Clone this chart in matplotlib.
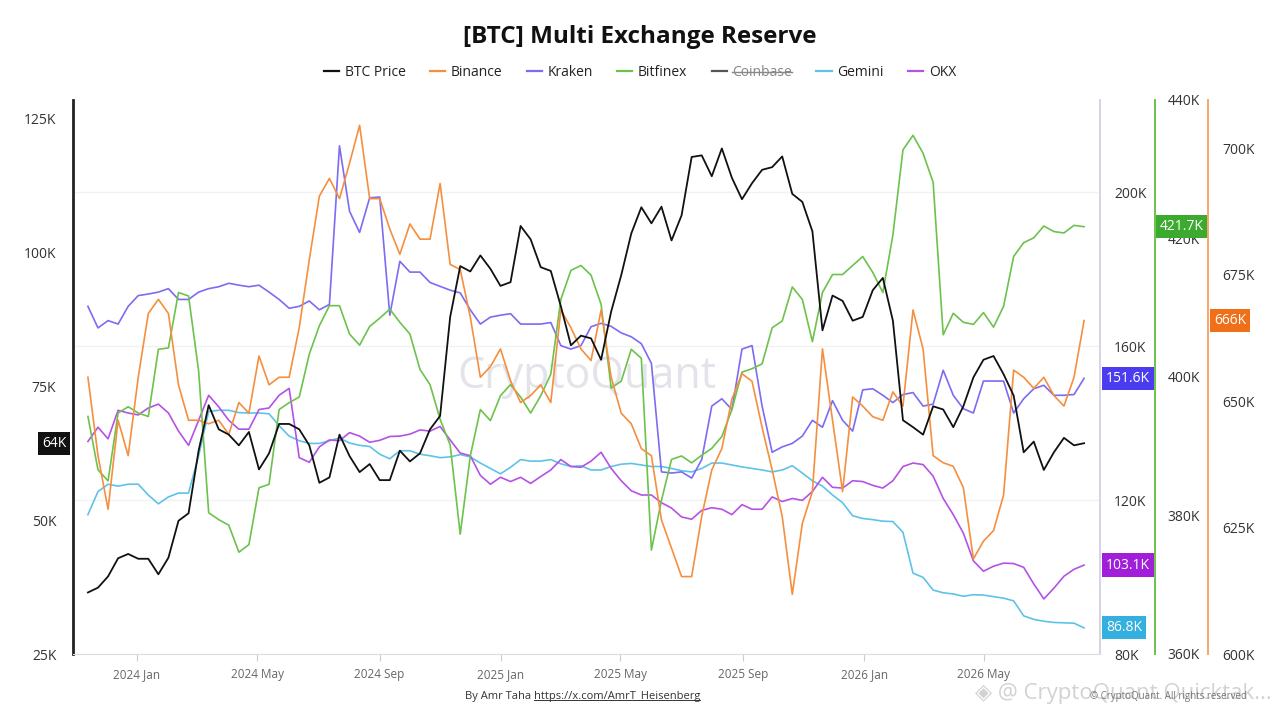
import pandas as pd
import matplotlib
matplotlib.use("Agg")
import matplotlib.pyplot as plt
import matplotlib.dates as mdates
from matplotlib.ticker import FuncFormatter
from matplotlib.lines import Line2D

plt.rcParams['font.family'] = ['Open Sans', 'DejaVu Sans']

# ~10-day samples
dates = pd.date_range("2023-11-13", "2026-08-10", periods=100)

# BTC price, K USD (left axis)
btc_price = [36.5, 37.4, 39.5, 42.9, 43.7, 42.8, 42.8, 39.9, 43.0, 49.9,
             51.3, 63.0, 71.5, 67.0, 66.0, 64.0, 66.5, 59.5, 62.5, 68.0,
             68.0, 67.0, 64.0, 57.0, 58.0, 66.0, 62.0, 59.0, 60.5, 57.5,
             57.5, 63.0, 61.0, 62.5, 67.0, 69.5, 88.0, 97.5, 96.5, 99.5,
             97.0, 93.8, 94.5, 105.0, 102.5, 97.3, 96.6, 90.0, 82.7, 84.5,
             84.0, 80.0, 89.0, 95.8, 103.6, 108.5, 105.5, 108.6, 102.3, 107.0,
             117.9, 118.2, 114.3, 119.5, 114.0, 110.0, 113.0, 115.5, 116.0, 118.0,
             111.0, 109.5, 104.0, 85.5, 92.0, 91.0, 87.3, 88.0, 93.0, 95.3,
             87.3, 68.7, 67.4, 66.0, 71.3, 70.7, 67.4, 71.3, 76.7, 80.0,
             80.7, 77.3, 73.3, 62.7, 64.7, 59.4, 62.7, 65.4, 64.0, 64.4]

# exchange reserves, K BTC
binance = [654.7, 639.2, 628.6, 646.2, 639.2, 654.7, 667.3, 670.1, 667.3, 653.2,
           646.2, 646.2, 645.5, 646.2, 643.4, 649.7, 647.6, 658.9, 653.2, 654.7,
           654.7, 664.5, 677.9, 690.5, 694.0, 690.0, 697.0, 704.5, 690.0, 690.0,
           684.0, 679.0, 685.0, 682.0, 682.0, 693.0, 677.0, 676.0, 666.6, 654.7,
           656.8, 660.3, 654.0, 649.7, 651.1, 653.2, 649.7, 668.0, 664.5, 660.3,
           658.0, 668.0, 654.7, 647.6, 645.5, 640.6, 639.2, 626.5, 620.9, 615.3,
           615.3, 627.2, 636.4, 640.6, 650.4, 655.4, 653.9, 644.8, 636.4, 627.2,
           611.8, 625.8, 632.1, 660.3, 646.2, 632.1, 650.8, 649.0, 646.9, 646.2,
           651.8, 649.0, 668.0, 660.3, 639.2, 637.8, 637.1, 632.9, 618.8, 622.3,
           624.4, 631.4, 656.1, 654.7, 652.5, 654.7, 651.1, 649.0, 654.7, 665.9]

kraken = [170.3, 164.7, 166.6, 165.7, 170.3, 173.1, 173.5, 174.0, 174.9, 172.1,
          172.1, 174.0, 174.9, 175.4, 176.3, 175.8, 175.4, 175.8, 174.0, 172.1,
          169.8, 170.3, 171.7, 169.4, 170.8, 212.0, 195.0, 189.5, 198.5, 198.7,
          168.0, 182.0, 179.2, 179.2, 176.5, 175.5, 174.5, 173.8, 169.4, 165.7,
          167.5, 168.0, 168.4, 165.7, 165.7, 165.7, 166.1, 160.1, 159.2, 160.1,
          165.0, 165.9, 165.1, 163.4, 162.4, 160.6, 155.5, 127.3, 127.0, 127.3,
          125.7, 130.5, 144.4, 146.3, 143.5, 159.2, 160.1, 144.4, 132.4, 133.8,
          134.7, 136.6, 140.7, 138.9, 145.8, 140.7, 137.9, 148.6, 148.9, 147.2,
          145.3, 147.4, 147.9, 144.4, 144.9, 153.7, 147.2, 143.7, 142.6, 150.9,
          150.9, 150.9, 142.6, 146.3, 148.9, 149.8, 147.2, 147.2, 147.4, 151.6]

bitfinex = [394.3, 386.6, 385.0, 394.8, 395.7, 394.8, 394.3, 404.0, 404.2, 412.2,
            411.7, 400.9, 380.4, 379.4, 378.6, 374.7, 375.8, 384.0, 384.5, 395.3,
            396.3, 397.1, 403.3, 407.4, 410.3, 410.3, 406.2, 404.6, 407.3, 408.5,
            409.8, 407.9, 406.2, 401.1, 398.9, 393.9, 390.2, 377.3, 388.6, 395.3,
            393.7, 397.3, 398.9, 397.1, 394.8, 397.3, 400.4, 411.2, 415.4, 416.1,
            414.7, 410.5, 398.4, 399.4, 404.0, 402.7, 375.0, 382.2, 388.1, 388.6,
            387.6, 388.7, 389.7, 391.4, 395.3, 400.7, 401.2, 401.9, 407.1, 408.1,
            413.0, 411.2, 405.1, 412.2, 414.8, 414.8, 416.1, 417.4, 415.1, 412.2,
            420.5, 432.8, 434.9, 432.3, 428.1, 406.1, 409.2, 407.9, 407.6, 409.3,
            407.2, 410.2, 417.4, 419.4, 420.1, 421.8, 421.0, 420.8, 421.9, 421.7]

gemini = [116.2, 122.2, 124.1, 123.6, 124.1, 124.1, 121.3, 119.0, 120.8, 121.8,
          121.8, 131.5, 143.0, 143.3, 143.3, 142.7, 142.6, 142.6, 142.4, 139.3,
          136.6, 135.4, 134.7, 134.7, 135.4, 136.1, 134.8, 134.2, 133.9, 131.9,
          130.7, 132.8, 132.8, 131.9, 131.5, 131.0, 131.2, 131.8, 131.2, 129.6,
          128.2, 126.8, 128.5, 130.5, 130.1, 130.1, 130.5, 129.4, 128.7, 128.9,
          127.8, 127.8, 128.7, 129.3, 129.5, 129.1, 128.7, 128.7, 128.2, 127.6,
          127.3, 128.2, 129.6, 129.6, 129.1, 128.6, 128.2, 127.8, 127.3, 127.8,
          128.9, 127.0, 125.0, 123.6, 121.3, 119.3, 115.9, 115.2, 114.9, 114.5,
          114.4, 111.6, 101.0, 99.9, 96.6, 95.9, 95.6, 95.0, 95.4, 95.3,
          94.9, 94.5, 93.8, 89.9, 89.0, 88.5, 88.2, 88.1, 88.0, 86.8]

okx = [135.2, 138.9, 135.9, 143.3, 142.6, 142.1, 143.9, 144.9, 142.6, 137.9,
       134.2, 140.7, 147.2, 144.2, 140.7, 138.4, 138.4, 143.5, 143.9, 147.2,
       149.0, 131.0, 129.8, 133.8, 135.6, 135.4, 137.5, 136.6, 135.0, 135.5,
       136.5, 136.6, 137.1, 138.2, 137.9, 139.1, 135.6, 132.2, 131.5, 126.4,
       124.1, 125.9, 124.8, 125.9, 124.3, 126.1, 127.8, 130.5, 128.7, 128.5,
       130.1, 132.4, 128.2, 125.0, 122.4, 121.3, 121.3, 119.3, 117.9, 115.6,
       115.0, 117.3, 118.0, 117.6, 116.2, 118.8, 117.6, 117.6, 120.8, 119.6,
       120.4, 119.9, 122.2, 125.9, 123.3, 123.1, 125.0, 124.8, 123.8, 123.1,
       125.0, 128.7, 129.6, 129.2, 126.2, 120.4, 116.2, 111.4, 104.2, 101.5,
       102.8, 103.6, 103.5, 102.5, 98.2, 94.3, 97.1, 100.2, 102.0, 103.1]

c_btc = '#111111'
c_binance = '#f58f3f'
c_kraken = '#7b6cf2'
c_bitfinex = '#6cc24c'
c_coinbase = '#555555'
c_gemini = '#5ec3e6'
c_okx = '#b452e6'

kfmt = FuncFormatter(lambda v, p: f"{v:g}K")

fig = plt.figure(figsize=(12.8, 7.2), dpi=100)
ax = fig.add_axes([73 / 1280, 66 / 720, 1027 / 1280, 554 / 720])

ax.set_ylim(25, 128.55)
ax.set_yticks([25, 50, 75, 100, 125])
ax.yaxis.set_major_formatter(kfmt)
ax.tick_params(axis='y', length=0, pad=12, labelsize=10, labelcolor='#333333')
ax.set_xlim(pd.Timestamp('2023-10-29'), pd.Timestamp('2026-08-26'))
ax.xaxis.set_major_locator(mdates.MonthLocator(bymonth=[1, 5, 9]))
ax.xaxis.set_major_formatter(mdates.DateFormatter('%Y %b'))
ax.tick_params(axis='x', length=5, color='#cccccc', labelcolor='#666666',
               labelsize=8.5, pad=5)
for s in ['top', 'right']:
    ax.spines[s].set_visible(False)
ax.spines['left'].set_color('#222222')
ax.spines['left'].set_linewidth(2)
ax.spines['bottom'].set_color('#dddddd')


def side_axis(outward, color, lo, hi, ticks, pad):
    a = ax.twinx()
    a.set_ylim(lo, hi)
    a.set_yticks(ticks)
    a.yaxis.set_major_formatter(kfmt)
    a.tick_params(axis='y', length=0, pad=pad, labelsize=10, labelcolor='#333333')
    for s in ['top', 'left', 'bottom']:
        a.spines[s].set_visible(False)
    a.spines['right'].set_position(('outward', outward))
    a.spines['right'].set_color(color)
    a.spines['right'].set_linewidth(1.4)
    return a


ax_k = side_axis(0, '#d4d4e6', 80, 223.9, [80, 120, 160, 200], 10)
ax_k.grid(axis='y', color='#f1f1f1', lw=1)
ax_bf = side_axis(39.6, c_bitfinex, 360, 440, [360, 380, 400, 420, 440], 9)
ax_bn = side_axis(77.8, '#f7a76c', 600, 709.5, [600, 625, 650, 675, 700], 10)

# watermark sits under every line
ax_k.text(0.5, 0.5, 'CryptoQuant', transform=ax_k.transAxes, fontsize=31,
          color='#e3e3ea', ha='center', va='center', zorder=0)

ax_bn.plot(dates, binance, color=c_binance, lw=1.2)
ax_bf.plot(dates, bitfinex, color=c_bitfinex, lw=1.2)
ax_k.plot(dates, gemini, color=c_gemini, lw=1.2)
ax_k.plot(dates, okx, color=c_okx, lw=1.2)
ax_k.plot(dates, kraken, color=c_kraken, lw=1.2)
ax.plot(dates, btc_price, color=c_btc, lw=1.3)
# keep BTC on top
ax.set_zorder(ax_bn.get_zorder() + 1)
ax.patch.set_visible(False)


def last_label(a, val, text, color, dx, ha='left'):
    a.annotate(text, xy=(0 if ha == 'right' else 1, val), xycoords=a.get_yaxis_transform(),
               xytext=(dx, 0), textcoords='offset points', ha=ha, va='center',
               color='white', fontsize=10, annotation_clip=False, zorder=10,
               bbox=dict(boxstyle='square,pad=0.3', fc=color, ec='none'))


last_label(ax, btc_price[-1], f"{btc_price[-1]:.0f}K", '#111111', -5, ha='right')
last_label(ax_k, kraken[-1], f"{kraken[-1]:.1f}K", '#4b3cf0', 4.5)
last_label(ax_k, okx[-1], f"{okx[-1]:.1f}K", '#a11fd8', 4.5)
last_label(ax_k, gemini[-1], f"{gemini[-1]:.1f}K", '#33afe0', 4.5)
last_label(ax_bf, bitfinex[-1], f"{bitfinex[-1]:.1f}K", '#3ca92f', 43)
last_label(ax_bn, binance[-1], f"{binance[-1]:.0f}K", '#f07019', 82)

fig.text(0.5, 1 - 37 / 720, '[BTC] Multi Exchange Reserve', ha='center', va='center',
         fontsize=17.5, fontweight='bold', color='#111111')

names = ['BTC Price', 'Binance', 'Kraken', 'Bitfinex', 'Coinbase', 'Gemini', 'OKX']
colors = [c_btc, c_binance, c_kraken, c_bitfinex, c_coinbase, c_gemini, c_okx]
handles = [Line2D([], [], color=c, lw=1.6) for c in colors]
leg = fig.legend(handles, names, loc='center', bbox_to_anchor=(0.5, 1 - 72 / 720), ncol=7,
                 frameon=False, fontsize=10, handlelength=1.1, handletextpad=0.4,
                 columnspacing=1.75)
for t in leg.get_texts():
    t.set_color('#222222')
leg.get_texts()[4].set_color('#888888')

fig.text(531 / 1280, 1 - 697 / 720, 'By Amr Taha', ha='right', va='center',
         fontsize=8, color='#333333')
url = fig.text(534 / 1280, 1 - 697 / 720, 'https://x.com/AmrT_Heisenberg', ha='left',
               va='center', fontsize=8, color='#333333')
fig.text(1272 / 1280, 1 - 693 / 720, '◈ @ CryptoQuant Quicktak...', ha='right', va='center',
         fontsize=16, color='#d2d2d2')
fig.text(1090 / 1280, 1 - 697 / 720, '© CryptoQuant. All rights reserved', ha='left',
         va='center', fontsize=7, color='#777777')

# strike through Coinbase, underline the link
fig.canvas.draw()
r = fig.canvas.get_renderer()
inv = fig.transFigure.inverted()
bb = leg.get_texts()[4].get_window_extent(r).transformed(inv)
ym = (bb.y0 + bb.y1) / 2
fig.add_artist(Line2D([bb.x0, bb.x1], [ym, ym], transform=fig.transFigure,
                      color='#888888', lw=1))
bb = url.get_window_extent(r).transformed(inv)
fig.add_artist(Line2D([bb.x0, bb.x1], [bb.y0 + 0.004, bb.y0 + 0.004],
                      transform=fig.transFigure, color='#333333', lw=0.7))

fig.savefig('out.png', dpi=100)
